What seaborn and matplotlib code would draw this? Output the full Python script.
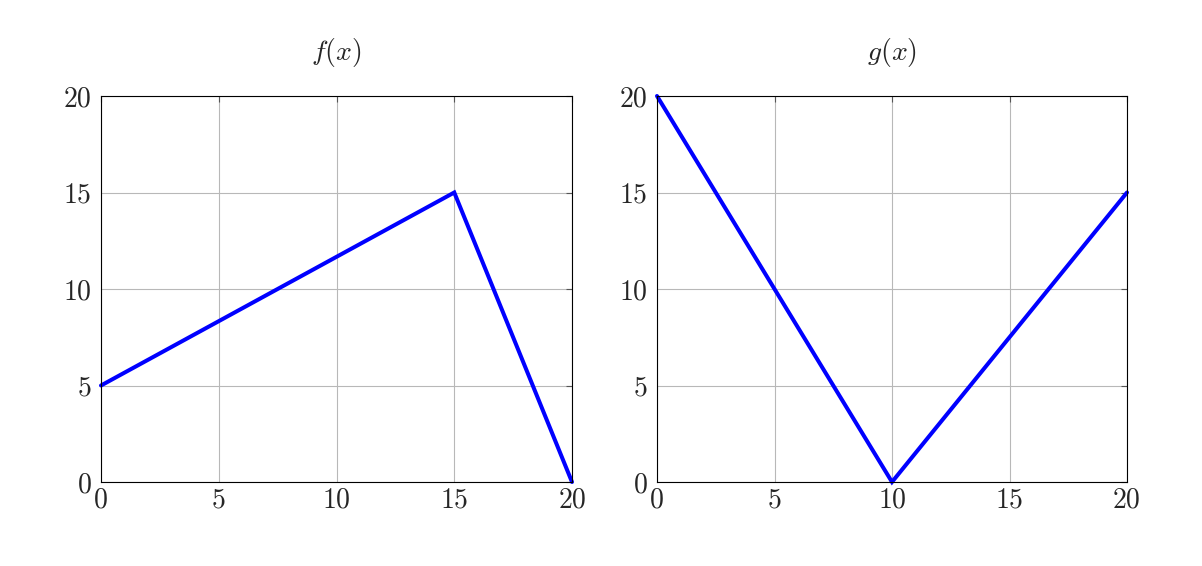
import matplotlib.pyplot as plt
import seaborn as sns
import pandas as pd

# dados das duas funções (pontos de quebra)
f_x = [0, 15, 20]
f_y = [5, 15, 0]
g_x = [0, 10, 20]
g_y = [20, 0, 15]
ticks_x = [0, 5, 10, 15, 20]
ticks_y = [0, 5, 10, 15, 20]

sns.set_style('white')
plt.rcParams['font.family'] = ['cmr10', 'DejaVu Serif']
plt.rcParams['mathtext.fontset'] = 'cm'
plt.rcParams['axes.formatter.use_mathtext'] = True

fig = plt.figure(figsize=(12.02, 5.66), dpi=100)
ax1 = fig.add_axes([101/1202, 84/566, 471/1202, 386/566])
ax2 = fig.add_axes([657/1202, 84/566, 470/1202, 386/566])

panels = [(ax1, f_x, f_y, r'$f(x)$'), (ax2, g_x, g_y, r'$g(x)$')]
for ax, xs, ys, title in panels:
    df = pd.DataFrame({'x': xs, 'y': ys})
    sns.lineplot(data=df, x='x', y='y', ax=ax, color='#0000ff', linewidth=2.9,
                 solid_joinstyle='miter', clip_on=False, zorder=5)
    ax.set_xlim(0, 20)
    ax.set_ylim(0, 20)
    ax.set_xticks(ticks_x)
    ax.set_yticks(ticks_y)
    ax.set_xticklabels([str(t) for t in ticks_x])
    ax.set_yticklabels([str(t) for t in ticks_y])
    ax.grid(True, color='#b8b8b8', linewidth=0.8)
    ax.set_axisbelow(True)
    ax.tick_params(direction='in', length=4.5, width=0.8, color='#555555',
                   top=True, right=True, labelsize=20)
    ax.tick_params(axis='x', pad=4)
    ax.tick_params(axis='y', pad=7)
    for s in ax.spines.values():
        s.set_color('black')
        s.set_linewidth(0.8)
        s.set_zorder(6)
    ax.set_xlabel('')
    ax.set_ylabel('')
    ax.set_title(title, fontsize=20, pad=26)

fig.savefig('out.png', dpi=100)
plt.close()
